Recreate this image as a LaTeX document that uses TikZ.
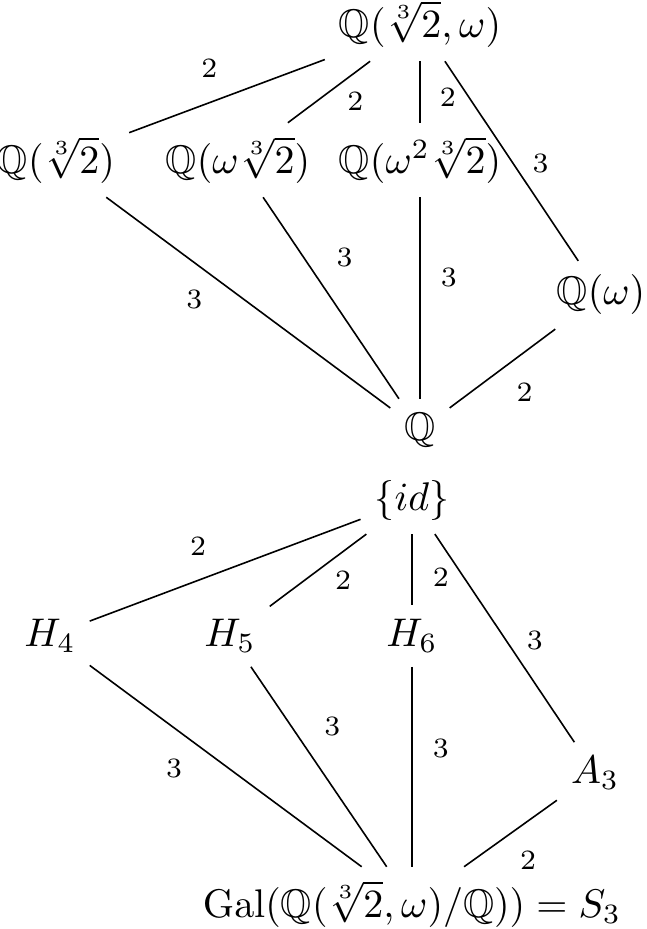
\documentclass[tikz,border=0pt]{standalone}
\usepackage{amsmath,amssymb}
\usepackage{tikz}

\begin{document}
\begin{tikzpicture}[x=0.25pt,y=-0.25pt,
  deg/.style={font=\scriptsize,inner sep=0pt}]
\useasboundingbox (0,0) rectangle (646,929);
\node (split) at (420,24) {$\mathbb{Q}(\sqrt[3]{2},\omega)$};
\node (cr1) at (56,160) {$\mathbb{Q}(\sqrt[3]{2})$};
\node (cr2) at (238,160) {$\mathbb{Q}(\omega\sqrt[3]{2})$};
\node (cr3) at (420,160) {$\mathbb{Q}(\omega^2\sqrt[3]{2})$};
\node (cyc) at (601,295) {$\mathbb{Q}(\omega)$};
\node (base) at (420,430) {$\mathbb{Q}$};
\draw (split) -- node[deg,pos=.59,above=6pt]{2} (cr1);
\draw (split) -- node[deg,pos=.18,below=4.75pt]{2} (cr2);
\draw (split) -- node[deg,pos=.59,right=4.75pt]{2} (cr3);
\draw (split) -- node[deg,pos=.51,right=4.75pt]{3} (cyc);
\draw (cr1) -- node[deg,pos=.31,below=6.75pt]{3} (base);
\draw (cr2) -- node[deg,pos=.3,right=8pt]{3} (base);
\draw (cr3) -- node[deg,pos=.4,right=5pt]{3} (base);
\draw (cyc) -- node[deg,pos=.29,below=7.5pt]{2} (base);
\node (triv) at (412,500) {$\{id\}$};
\node (h4) at (50,636) {$H_4$};
\node (h5) at (230,636) {$H_5$};
\node (h6) at (412,636) {$H_6$};
\node (alt) at (595,773) {$A_3$};
\node (gal) at (412,904) {$\mathrm{Gal}(\mathbb{Q}(\sqrt[3]{2},\omega)/\mathbb{Q}))=S_3$};
\draw (triv) -- node[deg,pos=.6,above=6pt]{2} (h4);
\draw (triv) -- node[deg,pos=.24,below=4.65pt]{2} (h5);
\draw (triv) -- node[deg,pos=.6,right=5pt]{2} (h6);
\draw (triv) -- node[deg,pos=.51,right=5pt]{3} (alt);
\draw (h4) -- node[deg,pos=.31,below=7.5pt]{3} (gal);
\draw (h5) -- node[deg,pos=.3,right=8pt]{3} (gal);
\draw (h6) -- node[deg,pos=.41,right=5pt]{3} (gal);
\draw (alt) -- node[deg,pos=.31,below=7.25pt]{2} (gal);
\end{tikzpicture}
\end{document}
